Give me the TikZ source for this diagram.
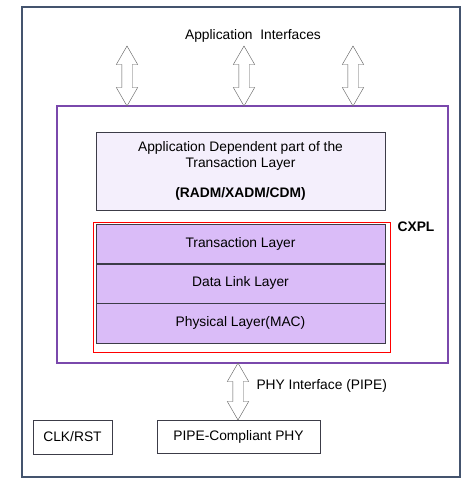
\documentclass[tikz,border=0pt]{standalone}
\usepackage{fontspec}
\setmainfont{Liberation Sans}
\usepackage{xcolor}
\usepackage{tikz}
\usetikzlibrary{positioning, shapes.arrows}

\definecolor{framegray}{RGB}{68,84,110}
\definecolor{cxplpurple}{RGB}{122,72,172}
\definecolor{layerfill}{RGB}{218,188,248}
\definecolor{appfill}{RGB}{244,239,252}
\definecolor{boxline}{RGB}{60,60,72}

\begin{document}
\begin{tikzpicture}[x=1pt, y=-1pt, font=\fontsize{13.8}{16}\selectfont,
    layer/.style={draw=boxline, fill=layerfill, minimum width=289pt, minimum height=39.3pt, inner sep=0pt},
    plainbox/.style={draw=boxline, inner sep=0pt},
    fatarrow/.style={double arrow, draw=black!65, fill=white, rotate=90, inner sep=0pt, inner ysep=5pt,
        minimum width=21pt, double arrow head extend=5.5pt, double arrow tip angle=60, double arrow head indent=0pt}]
        \useasboundingbox (0,0) rectangle (474,490);

        % outer frame and CXPL box
        \node[draw=framegray, line width=1.3pt, minimum width=438pt, minimum height=470pt, inner sep=0pt] (frame) at (241,242) {};
        \node[draw=cxplpurple, line width=1.5pt, minimum width=391pt, minimum height=257pt, inner sep=0pt] (cxplbox) at (252.5,234.5) {};
        \node[font=\fontsize{13.8}{16}\selectfont\bfseries] (cxpl) at (416,227) {CXPL};

        \node (appif) at (253,36) {Application\ \ Interfaces};
        \node[fatarrow, minimum height=60pt] (a1) at (127,76) {};
        \node[fatarrow, minimum height=60pt] (a2) at (244,76) {};
        \node[fatarrow, minimum height=60pt] (a3) at (353,76) {};

        % application dependent part
        \node[plainbox, fill=appfill, minimum width=289pt, minimum height=78pt, align=center] (appdep) at (240.5,171)
            {Application Dependent part of the\\Transaction Layer\\[14pt]\textbf{(RADM/XADM/CDM)}};

        % core layers
        \node[draw=red, line width=1pt, minimum width=297pt, minimum height=130pt, inner sep=0pt] (core) at (241.5,287) {};
        \node[layer] (tl) at (240.5,243.7) {Transaction Layer};
        \node[layer, below=0pt of tl] (dll) {Data Link Layer};
        \node[layer, below=0pt of dll] (pl) {Physical Layer(MAC)};

        % PHY side
        \node[fatarrow, minimum height=57pt] (a4) at (238,391.5) {};
        \node[anchor=west] (pipeif) at (253,386) {PHY Interface (PIPE)};
        \node[plainbox, minimum width=79pt, minimum height=34pt] (clk) at (72.5,437) {CLK/RST};
        \node[plainbox, minimum width=163pt, minimum height=33pt] (phy) at (238.5,436.5) {PIPE-Compliant PHY};

    \end{tikzpicture}
\end{document}
